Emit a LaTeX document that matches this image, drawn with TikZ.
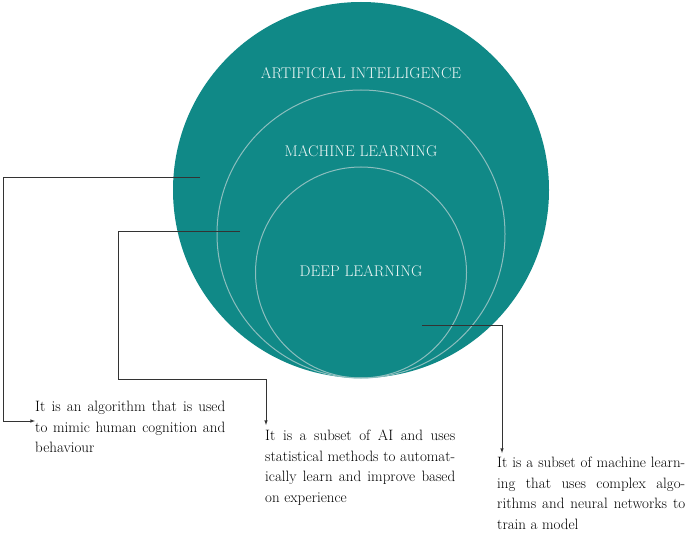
\documentclass[tikz,border=0pt]{standalone}
\usepackage{ragged2e}
\definecolor{teal1}{RGB}{16,137,135}
\definecolor{ring}{RGB}{140,190,190}
\tikzset{
  lab/.style={text=white!92!teal1,font=\fontsize{15.5}{18}\selectfont},
  desc/.style={anchor=north west,align=justify,inner sep=0pt,font=\fontsize{15}{20.5}\selectfont},
  conn/.style={draw=black!80,line width=0.6pt},
  ringc/.style={draw=ring,line width=1pt}
}
\begin{document}
\begin{tikzpicture}[x=1pt,y=-1pt]
\useasboundingbox (0,0) rectangle (685,556);
\fill[teal1] (361,190) circle (188);
\draw[ringc] (361,234) circle (144);
\draw[ringc] (361,272.5) circle (105.5);
\node[lab] (ai) at (361,73) {ARTIFICIAL INTELLIGENCE};
\node[lab] (ml) at (361,151) {MACHINE LEARNING};
\node[lab] (dl) at (361,271) {DEEP LEARNING};
\coordinate (s1) at (200,177);
\coordinate (s2) at (240,231);
\coordinate (s3) at (422,325);
\node[desc,text width=190pt] (t1) at (35,401) {It is an algorithm that is used to mimic human cognition and behaviour};
\node[desc,text width=190pt] (t2) at (265,430) {It is a subset of AI and uses statistical methods to automatically learn and improve based on experience};
\node[desc,text width=188pt] (t3) at (497,457) {It is a subset of machine learning that uses complex algorithms and neural networks to train a model};
\draw[conn,-latex] (s1) -- (3,177) |- (t1.west|-0,421);
\draw[conn,-latex] (s2) -- (118,231) |- (266,379) -- (266,425);
\draw[conn,-latex] (s3) -- (502,325) -- (502,453);
\end{tikzpicture}
\end{document}
